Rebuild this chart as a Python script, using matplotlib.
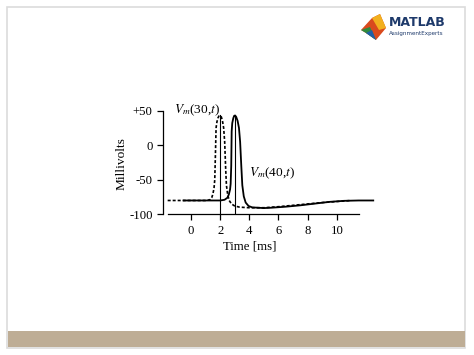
import matplotlib
matplotlib.use("Agg")
import matplotlib.pyplot as plt
from matplotlib.patches import Rectangle, Polygon

# ---- data ----
t30 = [-1.6, 0.0, 1.0, 1.3, 1.42, 1.5, 1.58, 1.63, 1.68, 1.72, 1.78, 1.86, 1.93, 2.0, 2.08,
       2.16, 2.24, 2.31, 2.38, 2.43, 2.52, 2.62, 2.78, 3.0, 3.3, 3.6, 4.0, 5.0, 6.0, 7.0,
       8.0, 9.0, 10.0, 11.0]
v30 = [-80, -80, -80, -79, -76, -71, -62, -50, -10, 25, 34, 40, 42.5, 43, 41,
       35, 25, 5, -35, -58, -72, -80, -85, -88, -89.5, -90, -90.5, -90.5, -89, -87,
       -85, -83, -81.5, -80]

t40 = [-0.5, 1.0, 2.0, 2.3, 2.5, 2.6, 2.68, 2.72, 2.76, 2.79, 2.83, 2.9, 2.96, 3.02, 3.1,
       3.2, 3.29, 3.37, 3.45, 3.52, 3.62, 3.75, 3.95, 4.2, 4.6, 5.0, 5.5, 6.5, 7.5, 8.5,
       9.5, 10.5, 11.5, 12.5]
v40 = [-80, -80, -80, -79, -76, -71, -64, -56, -30, 20, 32, 39, 42.5, 43, 41,
       35, 25, 5, -30, -58, -74, -83, -88, -90, -90.5, -91, -90.5, -89, -87, -84.5,
       -82, -80.5, -80, -80]

peak_times = [2.0, 3.0]
peak_values = [43, 43]

xticks = [0, 2, 4, 6, 8, 10]
yticks = [-100, -50, 0, 50]
ytick_labels = ["-100", "-50", "0", "+50"]

W, H = 474, 355
plt.rcParams['font.family'] = ['Liberation Serif', 'DejaVu Serif']
plt.rcParams['mathtext.fontset'] = 'stix'

fig = plt.figure(figsize=(W / 100, H / 100), dpi=100)
fig.patch.set_facecolor('white')

# ---- slide decoration ----
bg = fig.add_axes([0, 0, 1, 1])
bg.set_xlim(0, W)
bg.set_ylim(H, 0)
bg.axis('off')
bg.add_patch(Rectangle((7.5, 6.5), 458, 341, facecolor='white', edgecolor='#dcdcdc', lw=1.2))
bg.add_patch(Rectangle((8, 331), 457, 16, facecolor='#bead95', edgecolor='none'))
# logo
bg.add_patch(Polygon([[361, 30], [372, 18], [380, 14], [386, 28], [376, 40], [366, 33]],
                     closed=True, facecolor='#d94a1e', edgecolor='none'))
bg.add_patch(Polygon([[372, 18], [380, 14], [386, 28], [379, 30]],
                     closed=True, facecolor='#f2b01e', edgecolor='none'))
bg.add_patch(Polygon([[361, 30], [366, 33], [376, 40], [370, 27]],
                     closed=True, facecolor='#2e8b3e', edgecolor='none'))
bg.add_patch(Polygon([[366, 33], [376, 40], [372, 30]],
                     closed=True, facecolor='#1f5fa8', edgecolor='none'))
bg.text(389, 23, "MATLAB", fontsize=9, fontweight='bold', color='#1e3a6b',
        family='DejaVu Sans', va='center', ha='left')
bg.text(389, 33.5, "AssignmentExperts", fontsize=4.1, color='#1e3a6b',
        family='DejaVu Sans', va='center', ha='left')

# ---- chart ----
ax = fig.add_axes([163 / W, (H - 214.3) / H, 211.7 / W, 107.1 / H])
ax.set_facecolor('none')
ax.plot(t30, v30, color='black', lw=1.2, ls=(0, (1.8, 1.2)))
ax.plot(t40, v40, color='black', lw=1.3)
for pt, pv in zip(peak_times, peak_values):
    ax.plot([pt, pt], [-100, pv], color='black', lw=0.8)

ax.set_xlim(-1.92, 12.6)
ax.set_ylim(-100, 55)
for s in ['top', 'right']:
    ax.spines[s].set_visible(False)
ax.spines['bottom'].set_bounds(-1.6, 11.5)
ax.spines['left'].set_bounds(-100, 50)
ax.spines['left'].set_linewidth(0.9)
ax.spines['bottom'].set_linewidth(0.9)
ax.set_xticks(xticks)
ax.set_yticks(yticks)
ax.set_yticklabels(ytick_labels)
ax.tick_params(direction='out', length=4.5, width=0.9, labelsize=9.2, pad=3)

bg.text(250, 246.5, "Time [ms]", fontsize=9.3, ha='center', va='center')
bg.text(121.5, 163.5, "Millivolts", fontsize=9.6, rotation=90, ha='center', va='center')

ax.text(-1.15, 50, r"$V_m$(30,$t$)", fontsize=9.6, ha='left', va='center')
ax.text(3.95, -41, r"$V_m$(40,$t$)", fontsize=9.6, ha='left', va='center')

fig.savefig("out.png", dpi=100)
